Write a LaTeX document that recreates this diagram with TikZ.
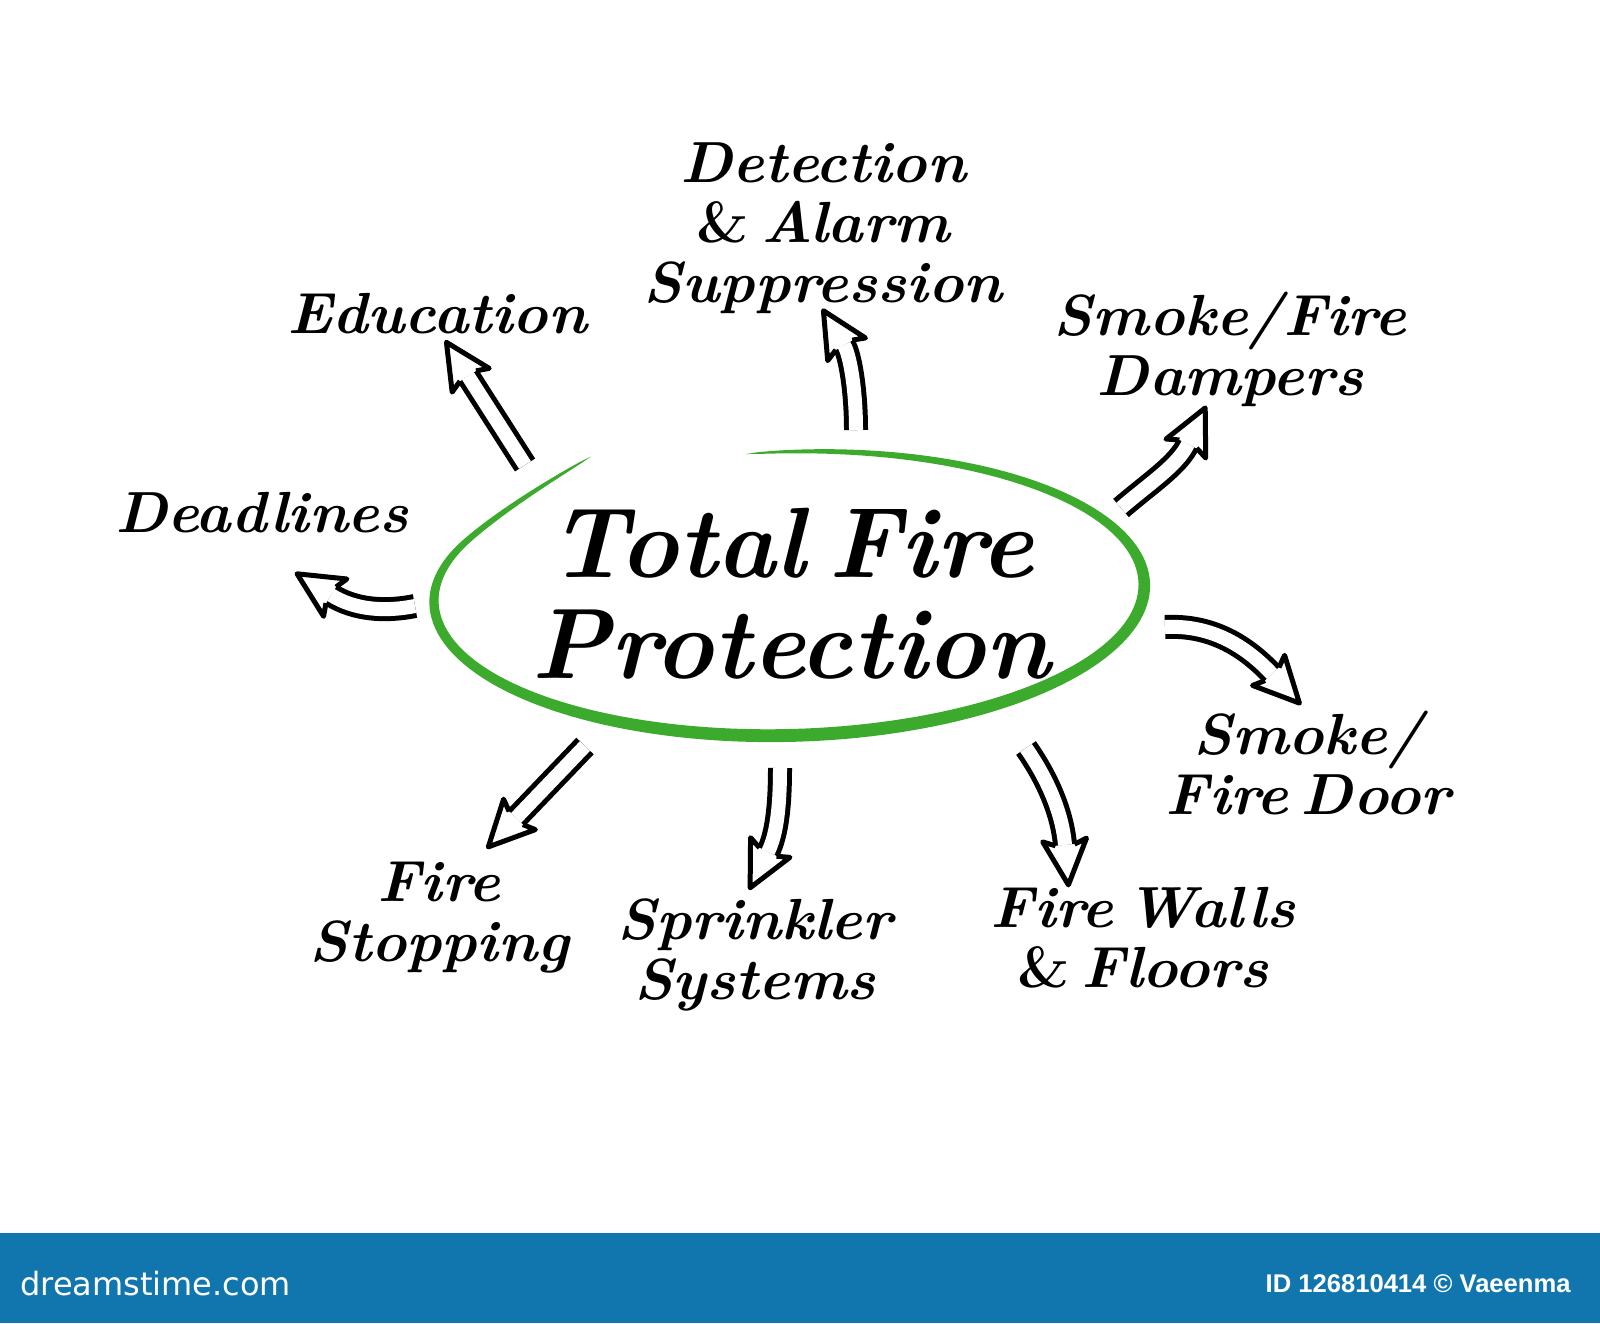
\documentclass[tikz,border=0pt]{standalone}
\usepackage{fontspec}
\newfontfamily\handfont{Latin Modern Roman}[FakeStretch=1.03, WordSpace=0.5]
\newfontfamily\bighand{Latin Modern Roman}[WordSpace=0.55]
\newfontfamily\barfont{DejaVu Sans}
\newfontfamily\idfont{Liberation Sans}
\usetikzlibrary{calc}
\definecolor{ringgreen}{RGB}{60,170,45}
\definecolor{barblue}{RGB}{18,118,174}
\newcommand{\arrowtip}[2]{%
  \path let \p1=($(#2)-(#1)$), \n1={atan2(\y1,\x1)} in \pgfextra{\xdef\tipangle{\n1}};
  \draw[arrowhead, shift={(#2)}, rotate=\tipangle] (0pt,4.75pt) -- (-2.5pt,11pt) -- (20pt,0pt) -- (-2.5pt,-11pt) -- (0pt,-4.75pt);%
}
\newcommand{\amp}{\textup{\&}}
\begin{document}
\begin{tikzpicture}[x=0.5pt,y=-0.5pt,
  lbl/.style={font=\handfont\bfseries\itshape\fontsize{29}{30}\selectfont, align=center, inner sep=0pt},
  big/.style={font=\bighand\bfseries\itshape\fontsize{50}{50.5}\selectfont, align=center, inner sep=0pt},
  arrowhead/.style={draw=black, fill=white, line width=2.5pt, line join=round},
  shaft/.style={draw=black, line width=2.5pt, double=white, double distance=7pt}]
\fill[white] (0,0) rectangle (1600,1323);
\useasboundingbox (0,0) rectangle (1600,1323);

% green ring
\fill[ringgreen] plot[domain=-97:236, samples=160, variable=\t]
  ({789+(354+8*sqrt(abs(sin(0.54054*(\t+97)))))*cos(\t)}, {593+(141+8*sqrt(abs(sin(0.54054*(\t+97)))))*sin(\t)-8*cos(\t)-0.025*max(0,\t-205)^2})
  -- plot[domain=236:-97, samples=160, variable=\t]
  ({789+(354-5*sqrt(abs(sin(0.54054*(\t+97)))))*cos(\t)}, {593+(141-5*sqrt(abs(sin(0.54054*(\t+97)))))*sin(\t)-8*cos(\t)-0.025*max(0,\t-205)^2}) -- cycle;

% labels
\node[big] (main) at (791,594) {Total Fire\\Protection};
\node[lbl] (det) at (823,228) {Detection\\\amp{} Alarm\\Suppression};
\node[lbl] (edu) at (437,314) {Education};
\node[lbl] (damp) at (1230,349) {Smoke/Fire\\Dampers};
\node[lbl] (dead) at (262,513) {Deadlines};
\node[lbl] (door) at (1308,763) {Smoke/\\Fire Door};
\node[lbl] (walls) at (1143,938) {Fire Walls\\\amp{} Floors};
\node[lbl] (sprink) at (755,955) {Sprinkler\\Systems};
\node[lbl] (stop) at (439,918) {Fire\\Stopping};

% arrow points: T tail, C last control, E head base
\coordinate (eduT) at (525,465);   \coordinate (eduE) at (468,376);
\coordinate (detT) at (856,430);   \coordinate (detC) at (850,355);  \coordinate (detE) at (844,345);
\coordinate (dampT) at (1121,508); \coordinate (dampC) at (1178,465); \coordinate (dampE) at (1188,444);
\coordinate (deadT) at (415,606);  \coordinate (deadC) at (355,610);  \coordinate (deadE) at (331,595);
\coordinate (doorT) at (1165,627); \coordinate (doorC) at (1240,640); \coordinate (doorE) at (1272,674);
\coordinate (wallT) at (1026,748); \coordinate (wallC) at (1062,810); \coordinate (wallE) at (1065,845);
\coordinate (sprT) at (780,768);   \coordinate (sprC) at (777,834);  \coordinate (sprE) at (768,852);
\coordinate (stopT) at (585,746);  \coordinate (stopE) at (516,818);

\draw[shaft] (eduT) -- (eduE);
\draw[shaft] (detT) .. controls (856,390) and (detC) .. (detE);
\draw[shaft] (dampT) .. controls (1150,483) and (dampC) .. (dampE);
\draw[shaft] (deadT) .. controls (385,612) and (deadC) .. (deadE);
\draw[shaft] (doorT) .. controls (1205,625) and (doorC) .. (doorE);
\draw[shaft] (wallT) .. controls (1045,775) and (wallC) .. (wallE);
\draw[shaft] (sprT) .. controls (780,805) and (sprC) .. (sprE);
\draw[shaft] (stopT) -- (stopE);

\arrowtip{eduT}{eduE}
\arrowtip{detC}{detE}
\arrowtip{dampC}{dampE}
\arrowtip{deadC}{deadE}
\arrowtip{doorC}{doorE}
\arrowtip{wallC}{wallE}
\arrowtip{sprC}{sprE}
\arrowtip{stopT}{stopE}

% bottom bar
\fill[barblue] (0,1233) rectangle (1600,1323);
\node[anchor=west, text=white, font=\barfont\fontsize{16}{18}\selectfont, inner sep=0pt] (site) at (20,1284) {dreamstime.com};
\node[anchor=east, text=white, font=\idfont\bfseries\fontsize{12.8}{14}\selectfont, inner sep=0pt] (credit) at (1571,1284) {ID 126810414 © Vaeenma};
\end{tikzpicture}
\end{document}
